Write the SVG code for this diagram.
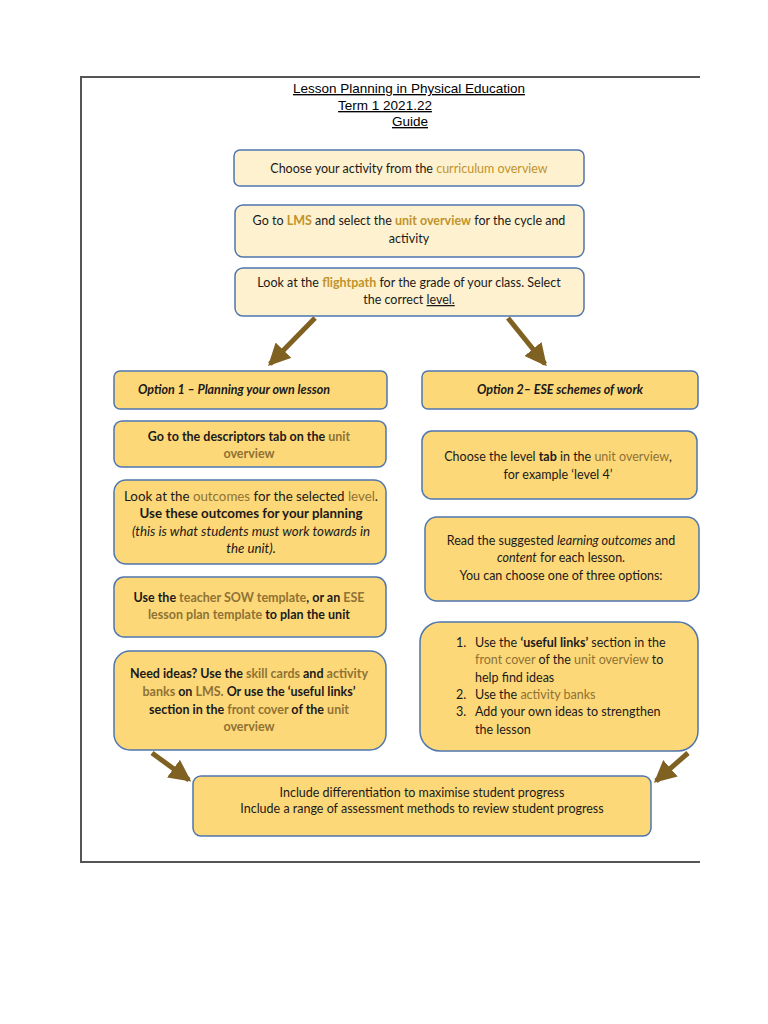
<svg xmlns="http://www.w3.org/2000/svg" width="768" height="1024" viewBox="0 0 768 1024">
<style>
.cream{fill:#FEF1CF;stroke:#4F76AE;stroke-width:1.5}
.gold{fill:#FDD878;stroke:#4F76AE;stroke-width:1.5}
.t{font-family:Lato,"Liberation Sans",sans-serif;font-size:12.5px;fill:#1a1a1a}
.t13{font-size:13.3px}
.h{font-family:"Liberation Sans",Arial,sans-serif;font-size:13.5px;fill:#000;text-decoration:underline}
.c{fill:#C0932C}
.d{fill:#8E7235}
.b{font-weight:bold}
.i{font-style:italic}
.arrow{stroke:#7F6122;stroke-width:5;fill:none}
</style>
<defs>
<marker id="ah" markerUnits="userSpaceOnUse" markerWidth="22" markerHeight="22" refX="14" refY="8" orient="auto" viewBox="0 0 16 16">
<path d="M0,0 L16,8 L0,16 z" fill="#7F6122"/>
</marker>
</defs>
<rect width="768" height="1024" fill="#fff"/>
<g id="frame" stroke="#555" stroke-width="2" fill="none">
<path d="M700,77 H81 V862 H700"/>
</g>
<g id="title">
<text class="h" x="409" y="93" text-anchor="middle">Lesson Planning in Physical Education</text>
<text class="h" x="385" y="110" text-anchor="middle">Term 1 2021.22</text>
<text class="h" x="410" y="126" text-anchor="middle">Guide</text>
</g>
<g id="connectors">
<line class="arrow" x1="315" y1="318" x2="270" y2="364" marker-end="url(#ah)"/>
<line class="arrow" x1="508" y1="318" x2="545" y2="364" marker-end="url(#ah)"/>
<line class="arrow" x1="152" y1="753" x2="189" y2="780" marker-end="url(#ah)"/>
<line class="arrow" x1="688" y1="753" x2="656" y2="781" marker-end="url(#ah)"/>
</g>
<g id="n1">
<rect class="cream" x="234" y="150" width="350" height="36" rx="6"/>
<text class="t" x="409" y="173" text-anchor="middle">Choose your activity from the <tspan class="c">curriculum overview</tspan></text>
</g>
<g id="n2">
<rect class="cream" x="235" y="205" width="349" height="52" rx="8"/>
<text class="t" x="409" y="225" text-anchor="middle">Go to <tspan class="c b">LMS</tspan> and select the <tspan class="c b">unit overview</tspan> for the cycle and</text>
<text class="t" x="409" y="243" text-anchor="middle">activity</text>
</g>
<g id="n3">
<rect class="cream" x="235" y="268" width="349" height="48" rx="8"/>
<text class="t" x="409" y="287" text-anchor="middle">Look at the <tspan class="c b">flightpath</tspan> for the grade of your class. Select</text>
<text class="t" x="409" y="304" text-anchor="middle">the correct <tspan text-decoration="underline">level.</tspan></text>
</g>
<g id="n4">
<rect class="gold" x="114" y="371" width="273" height="38" rx="6"/>
<text class="t b i" x="234" y="394" text-anchor="middle">Option 1 – Planning your own lesson</text>
</g>
<g id="n5">
<rect class="gold" x="422" y="371" width="276" height="38" rx="6"/>
<text class="t b i" x="560" y="394" text-anchor="middle">Option 2– ESE schemes of work</text>
</g>
<g id="n6">
<rect class="gold" x="114" y="421" width="272" height="46" rx="8"/>
<text class="t b" x="249" y="441" text-anchor="middle">Go to the descriptors tab on the <tspan class="d">unit</tspan></text>
<text class="t b d" x="249" y="458" text-anchor="middle">overview</text>
</g>
<g id="n7">
<rect class="gold" x="114" y="480" width="272" height="84" rx="12"/>
<text class="t t13" x="251" y="501" text-anchor="middle">Look at the <tspan class="d">outcomes</tspan> for the selected <tspan class="d">level</tspan>.</text>
<text class="t t13 b" x="251" y="518" text-anchor="middle">Use these outcomes for your planning</text>
<text class="t t13 i" x="251" y="536" text-anchor="middle">(this is what students must work towards in</text>
<text class="t t13 i" x="251" y="553" text-anchor="middle">the unit).</text>
</g>
<g id="n8">
<rect class="gold" x="114" y="577" width="272" height="60" rx="10"/>
<text class="t b" x="249" y="602" text-anchor="middle">Use the <tspan class="d">teacher SOW template</tspan>, or an <tspan class="d">ESE</tspan></text>
<text class="t b" x="249" y="619" text-anchor="middle"><tspan class="d">lesson plan template</tspan> to plan the unit</text>
</g>
<g id="n9">
<rect class="gold" x="114" y="651" width="272" height="99" rx="16"/>
<text class="t b" x="249" y="678" text-anchor="middle">Need ideas? Use the <tspan class="d">skill cards</tspan> and <tspan class="d">activity</tspan></text>
<text class="t b" x="249" y="696" text-anchor="middle"><tspan class="d">banks</tspan> on <tspan class="d">LMS.</tspan> Or use the ‘useful links’</text>
<text class="t b" x="249" y="714" text-anchor="middle">section in the <tspan class="d">front cover</tspan> of the <tspan class="d">unit</tspan></text>
<text class="t b d" x="249" y="731" text-anchor="middle">overview</text>
</g>
<g id="n10">
<rect class="gold" x="422" y="431" width="275" height="68" rx="10"/>
<text class="t" x="558" y="461" text-anchor="middle">Choose the level <tspan class="b">tab</tspan> in the <tspan class="d">unit overview</tspan>,</text>
<text class="t" x="558" y="479" text-anchor="middle">for example ‘level 4’</text>
</g>
<g id="n11">
<rect class="gold" x="425" y="517" width="274" height="84" rx="12"/>
<text class="t" x="561" y="545" text-anchor="middle">Read the suggested <tspan class="i">learning outcomes</tspan> and</text>
<text class="t" x="561" y="562" text-anchor="middle"><tspan class="i">content</tspan> for each lesson.</text>
<text class="t" x="561" y="580" text-anchor="middle">You can choose one of three options:</text>
</g>
<g id="n12">
<rect class="gold" x="420" y="622" width="278" height="129" rx="20"/>
<text class="t" x="456" y="647">1.</text>
<text class="t" x="475" y="647">Use the <tspan class="b">‘useful links’</tspan> section in the</text>
<text class="t" x="475" y="664"><tspan class="d">front cover</tspan> of the <tspan class="d">unit overview</tspan> to</text>
<text class="t" x="475" y="682">help find ideas</text>
<text class="t" x="456" y="699">2.</text>
<text class="t" x="475" y="699">Use the <tspan class="d">activity banks</tspan></text>
<text class="t" x="456" y="716">3.</text>
<text class="t" x="475" y="716">Add your own ideas to strengthen</text>
<text class="t" x="475" y="734">the lesson</text>
</g>
<g id="n13">
<rect class="gold" x="193" y="776" width="458" height="60" rx="8"/>
<text class="t" x="422" y="797" text-anchor="middle">Include differentiation to maximise student progress</text>
<text class="t" x="422" y="813" text-anchor="middle">Include a range of assessment methods to review student progress</text>
</g>
</svg>
